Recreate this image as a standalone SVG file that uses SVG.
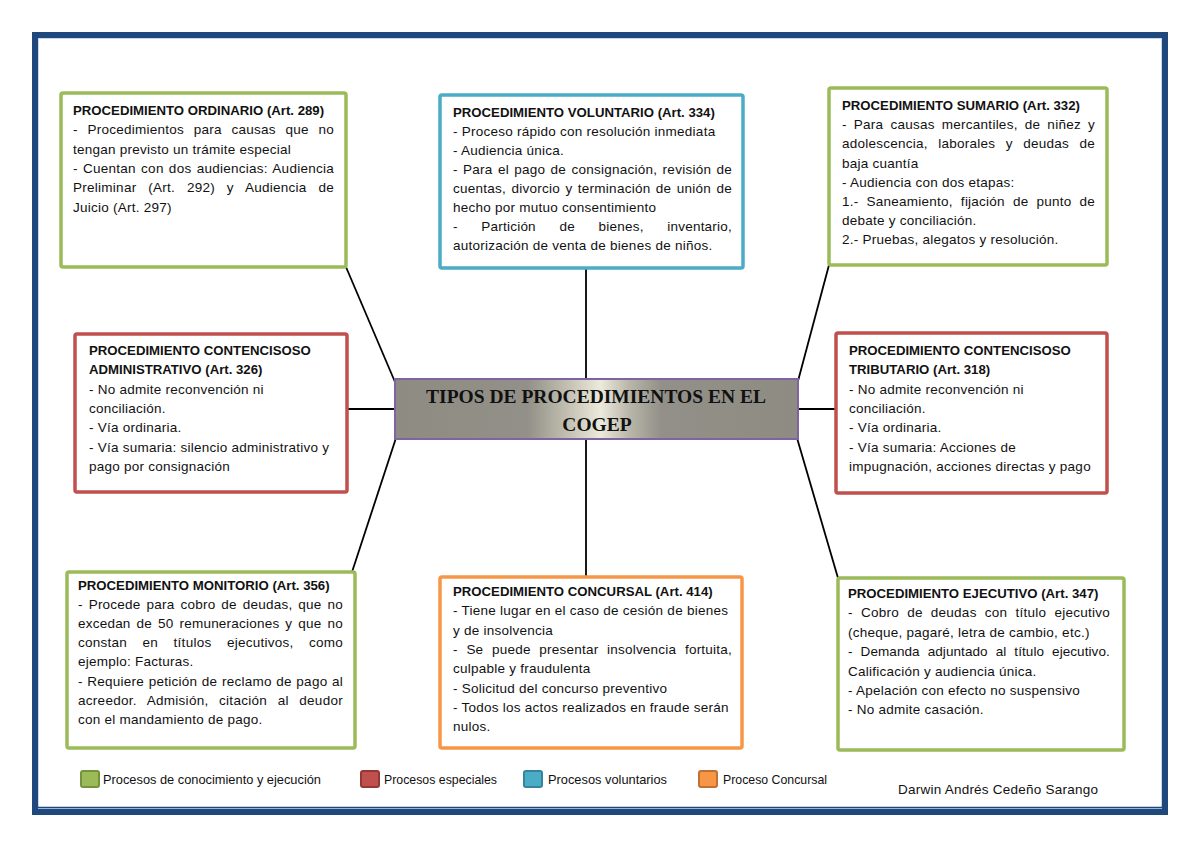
<svg xmlns="http://www.w3.org/2000/svg" width="1200" height="848" viewBox="0 0 1200 848">
<defs>
<style>
.t{font-family:"Liberation Sans",Arial,sans-serif;font-size:13.5px;letter-spacing:0.25px;fill:#111}
.h{font-weight:bold;font-size:13.2px;letter-spacing:0}
.box{fill:#fff;stroke-width:3.5}
.g{stroke:#9BBB59}
.r{stroke:#C0504D}
.b{stroke:#4BACC6}
.o{stroke:#F79646}
.conn{stroke:#000;stroke-width:1.8;fill:none}
.lg{font-family:"Liberation Sans Narrow","Liberation Sans",Arial,sans-serif;font-size:13px;fill:#111}
.sq{stroke-width:2}
</style>
<linearGradient id="metal" x1="0" y1="0" x2="1" y2="0">
<stop offset="0" stop-color="#8E8B82"/>
<stop offset="0.33" stop-color="#929088"/>
<stop offset="0.43" stop-color="#C4C1B3"/>
<stop offset="0.51" stop-color="#ECEADC"/>
<stop offset="0.58" stop-color="#BAB7AA"/>
<stop offset="0.66" stop-color="#929088"/>
<stop offset="1" stop-color="#8E8B82"/>
</linearGradient>
</defs>
<rect x="0" y="0" width="1200" height="848" fill="#fff"/>
<g id="frame">
<rect x="35" y="35" width="1130" height="777" fill="none" stroke="#1F497D" stroke-width="6"/>
<rect x="38.5" y="38.5" width="1123" height="770" fill="none" stroke="#C6D9F1" stroke-width="1"/>
<line x1="38" y1="807.5" x2="1162" y2="807.5" stroke="#1F497D" stroke-width="1.5"/>
</g>
<g id="connectors">
<path class="conn" d="M346,267 L395,382"/>
<path class="conn" d="M586,268 V379"/>
<path class="conn" d="M829,265 L798,381"/>
<path class="conn" d="M347,409 H395"/>
<path class="conn" d="M798,409 H836"/>
<path class="conn" d="M396,438 L352,572"/>
<path class="conn" d="M586,439 V577"/>
<path class="conn" d="M797,438 L838,578"/>
</g>
<g id="center">
<rect x="395" y="379" width="403" height="60" fill="url(#metal)" stroke="#8064A2" stroke-width="2"/>
<text x="596" y="403" text-anchor="middle" font-family="'Liberation Serif','Times New Roman',serif" font-weight="bold" font-size="19.5" fill="#111">TIPOS DE PROCEDIMIENTOS EN EL</text>
<text x="597" y="431" text-anchor="middle" font-family="'Liberation Serif','Times New Roman',serif" font-weight="bold" font-size="19.5" fill="#111">COGEP</text>
</g>
<g id="ordinario">
<rect class="box g" x="61" y="93" width="285" height="174" rx="2"/>
<text class="t h" x="73" y="115">PROCEDIMIENTO ORDINARIO (Art. 289)</text>
<text class="t" x="73" y="134.3" word-spacing="5.7" textLength="261" lengthAdjust="spacing">- Procedimientos para causas que no</text>
<text class="t" x="73" y="153.6">tengan previsto un trámite especial</text>
<text class="t" x="73" y="172.9" word-spacing="1.2" textLength="261" lengthAdjust="spacing">- Cuentan con dos audiencias: Audiencia</text>
<text class="t" x="73" y="192.2" word-spacing="7.8" textLength="261" lengthAdjust="spacing">Preliminar (Art. 292) y Audiencia de</text>
<text class="t" x="73" y="211.5">Juicio (Art. 297)</text>
</g>
<g id="voluntario">
<rect class="box b" x="440" y="95" width="303" height="173" rx="2"/>
<text class="t h" x="453" y="117">PROCEDIMIENTO VOLUNTARIO (Art. 334)</text>
<text class="t" x="453" y="136">- Proceso rápido con resolución inmediata</text>
<text class="t" x="453" y="155">- Audiencia única.</text>
<text class="t" x="453" y="174" word-spacing="1.3" textLength="279" lengthAdjust="spacing">- Para el pago de consignación, revisión de</text>
<text class="t" x="453" y="193" word-spacing="1.4" textLength="279" lengthAdjust="spacing">cuentas, divorcio y terminación de unión de</text>
<text class="t" x="453" y="212">hecho por mutuo consentimiento</text>
<text class="t" x="453" y="231" word-spacing="19.7" textLength="279" lengthAdjust="spacing">- Partición de bienes, inventario,</text>
<text class="t" x="453" y="250">autorización de venta de bienes de niños.</text>
</g>
<g id="sumario">
<rect class="box g" x="829" y="88" width="278" height="177" rx="2"/>
<text class="t h" x="842" y="110">PROCEDIMIENTO SUMARIO (Art. 332)</text>
<text class="t" x="842" y="129.2" word-spacing="3.1" textLength="253" lengthAdjust="spacing">- Para causas mercantiles, de niñez y</text>
<text class="t" x="842" y="148.4" word-spacing="6.5" textLength="253" lengthAdjust="spacing">adolescencia, laborales y deudas de</text>
<text class="t" x="842" y="167.6">baja cuantía</text>
<text class="t" x="842" y="186.8">- Audiencia con dos etapas:</text>
<text class="t" x="842" y="206" word-spacing="4" textLength="253" lengthAdjust="spacing">1.- Saneamiento, fijación de punto de</text>
<text class="t" x="842" y="225.2">debate y conciliación.</text>
<text class="t" x="842" y="244.4">2.- Pruebas, alegatos y resolución.</text>
</g>
<g id="contencioso-administrativo">
<rect class="box r" x="75" y="334" width="272" height="158" rx="2"/>
<text class="t h" x="89" y="355">PROCEDIMIENTO CONTENCISOSO</text>
<text class="t h" x="89" y="374.3">ADMINISTRATIVO (Art. 326)</text>
<text class="t" x="89" y="393.6">- No admite reconvención ni</text>
<text class="t" x="89" y="412.9">conciliación.</text>
<text class="t" x="89" y="432.2">- Vía ordinaria.</text>
<text class="t" x="89" y="451.5">- Vía sumaria: silencio administrativo y</text>
<text class="t" x="89" y="470.8">pago por consignación</text>
</g>
<g id="contencioso-tributario">
<rect class="box r" x="836" y="333" width="271" height="160" rx="2"/>
<text class="t h" x="849" y="355">PROCEDIMIENTO CONTENCISOSO</text>
<text class="t h" x="849" y="374.3">TRIBUTARIO (Art. 318)</text>
<text class="t" x="849" y="393.6">- No admite reconvención ni</text>
<text class="t" x="849" y="412.9">conciliación.</text>
<text class="t" x="849" y="432.2">- Vía ordinaria.</text>
<text class="t" x="849" y="451.5">- Vía sumaria: Acciones de</text>
<text class="t" x="849" y="470.8">impugnación, acciones directas y pago</text>
</g>
<g id="monitorio">
<rect class="box g" x="67" y="572" width="288" height="176" rx="2"/>
<text class="t h" x="78" y="590">PROCEDIMIENTO MONITORIO (Art. 356)</text>
<text class="t" x="78" y="609.1" word-spacing="1.9" textLength="265" lengthAdjust="spacing">- Procede para cobro de deudas, que no</text>
<text class="t" x="78" y="628.2" word-spacing="2" textLength="265" lengthAdjust="spacing">excedan de 50 remuneraciones y que no</text>
<text class="t" x="78" y="647.3" word-spacing="11.5" textLength="265" lengthAdjust="spacing">constan en títulos ejecutivos, como</text>
<text class="t" x="78" y="666.4">ejemplo: Facturas.</text>
<text class="t" x="78" y="685.5" word-spacing="0.6" textLength="265" lengthAdjust="spacing">- Requiere petición de reclamo de pago al</text>
<text class="t" x="78" y="704.6" word-spacing="6.5" textLength="265" lengthAdjust="spacing">acreedor. Admisión, citación al deudor</text>
<text class="t" x="78" y="723.7">con el mandamiento de pago.</text>
</g>
<g id="concursal">
<rect class="box o" x="440" y="577" width="302" height="171" rx="2"/>
<text class="t h" x="453" y="596">PROCEDIMIENTO CONCURSAL (Art. 414)</text>
<text class="t" x="453" y="615.3">- Tiene lugar en el caso de cesión de bienes</text>
<text class="t" x="453" y="634.6">y de insolvencia</text>
<text class="t" x="453" y="653.9" word-spacing="4.7" textLength="279" lengthAdjust="spacing">- Se puede presentar insolvencia fortuita,</text>
<text class="t" x="453" y="673.2">culpable y fraudulenta</text>
<text class="t" x="453" y="692.5">- Solicitud del concurso preventivo</text>
<text class="t" x="453" y="711.8">- Todos los actos realizados en fraude serán</text>
<text class="t" x="453" y="731.1">nulos.</text>
</g>
<g id="ejecutivo">
<rect class="box g" x="838" y="578" width="286" height="172" rx="2"/>
<text class="t h" x="848" y="598">PROCEDIMIENTO EJECUTIVO (Art. 347)</text>
<text class="t" x="848" y="617.4" word-spacing="4.2" textLength="262" lengthAdjust="spacing">- Cobro de deudas con título ejecutivo</text>
<text class="t" x="848" y="636.8">(cheque, pagaré, letra de cambio, etc.)</text>
<text class="t" x="848" y="656.2" word-spacing="4.2" textLength="262" lengthAdjust="spacing">- Demanda adjuntado al título ejecutivo.</text>
<text class="t" x="848" y="675.6">Calificación y audiencia única.</text>
<text class="t" x="848" y="695">- Apelación con efecto no suspensivo</text>
<text class="t" x="848" y="714.4">- No admite casación.</text>
</g>
<g id="legend">
<rect class="sq" x="81" y="771" width="18" height="16" rx="2" fill="#9BBB59" stroke="#76923C"/>
<text class="lg" x="103" y="784" textLength="218" lengthAdjust="spacingAndGlyphs">Procesos de conocimiento y ejecución</text>
<rect class="sq" x="361" y="771" width="18" height="16" rx="2" fill="#C0504D" stroke="#953735"/>
<text class="lg" x="384" y="784" textLength="113" lengthAdjust="spacingAndGlyphs">Procesos especiales</text>
<rect class="sq" x="524" y="771" width="18" height="16" rx="2" fill="#4BACC6" stroke="#31859C"/>
<text class="lg" x="548" y="784" textLength="119" lengthAdjust="spacingAndGlyphs">Procesos voluntarios</text>
<rect class="sq" x="699" y="771" width="18" height="16" rx="2" fill="#F79646" stroke="#C0702F"/>
<text class="lg" x="723" y="784" textLength="104" lengthAdjust="spacingAndGlyphs">Proceso Concursal</text>
</g>
<g id="signature">
<text class="t" x="898" y="794" textLength="200" lengthAdjust="spacing" style="letter-spacing:0">Darwin Andrés Cedeño Sarango</text>
</g>
</svg>
